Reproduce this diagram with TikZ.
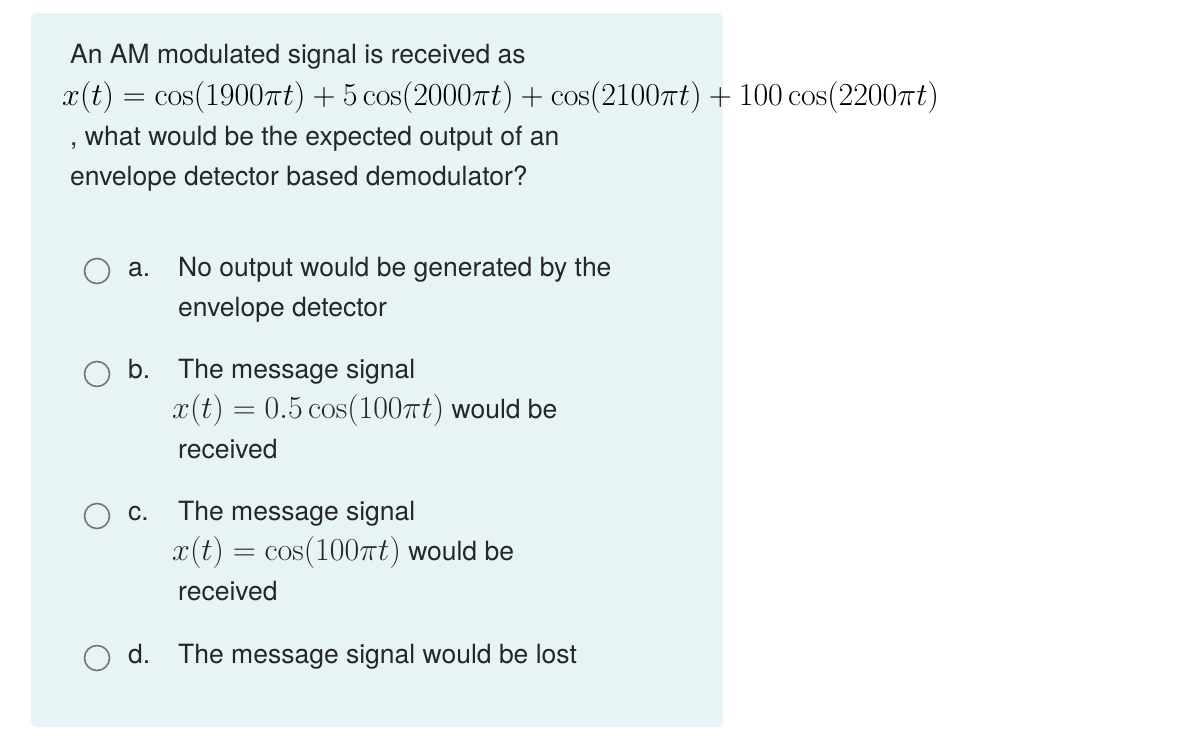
\RequirePackage{fix-cm}
\documentclass[tikz,border=0pt]{standalone}
\usepackage[no-math]{fontspec}
\setmainfont{TeX Gyre Heros}
\begin{document}
\begin{tikzpicture}[x=1pt,y=-1pt,
  txt/.style={anchor=base west,inner sep=0pt,font=\fontsize{26.5}{30}\selectfont,text=black!85},
  mth/.style={anchor=base west,inner sep=0pt,font=\fontsize{32}{36}\selectfont},
  radio/.style={circle,draw=black!55,line width=1.6pt,minimum size=25pt,inner sep=0pt}]
\useasboundingbox (0,0) rectangle (1179,745);
\fill[fill={rgb,255:red,231;green,243;blue,245},rounded corners=6pt] (31,13) rectangle (723,727);
\node[txt] (q1) at (70,63) {An AM modulated signal is received as};
\node[mth] (q2) at (62,105) {$x(t)=\cos(1900\pi t)+5\cos(2000\pi t)+\cos(2100\pi t)+100\cos(2200\pi t)$};
\node[txt] (q3) at (70,145) {, what would be the expected output of an};
\node[txt] (q4) at (70,185) {envelope detector based demodulator?};
\node[radio] (ra) at (97,271) {};
\node[txt] (la) at (128,276) {a.};
\node[txt] (a1) at (178,276) {No output would be generated by the};
\node[txt] (a2) at (178,316) {envelope detector};
\node[radio] (rb) at (97,374) {};
\node[txt] (lb) at (128,378) {b.};
\node[txt] (b1) at (178,378) {The message signal};
\node[txt] (b2) at (172,418) {{\fontsize{32}{36}\selectfont$x(t)=0.5\cos(100\pi t)$} would be};
\node[txt] (b3) at (178,458) {received};
\node[radio] (rc) at (97,516) {};
\node[txt] (lc) at (128,520) {c.};
\node[txt] (c1) at (178,520) {The message signal};
\node[txt] (c2) at (172,560) {{\fontsize{32}{36}\selectfont$x(t)=\cos(100\pi t)$} would be};
\node[txt] (c3) at (178,600) {received};
\node[radio] (rd) at (97,658) {};
\node[txt] (ld) at (128,663) {d.};
\node[txt] (d1) at (178,663) {The message signal would be lost};
\end{tikzpicture}
\end{document}
